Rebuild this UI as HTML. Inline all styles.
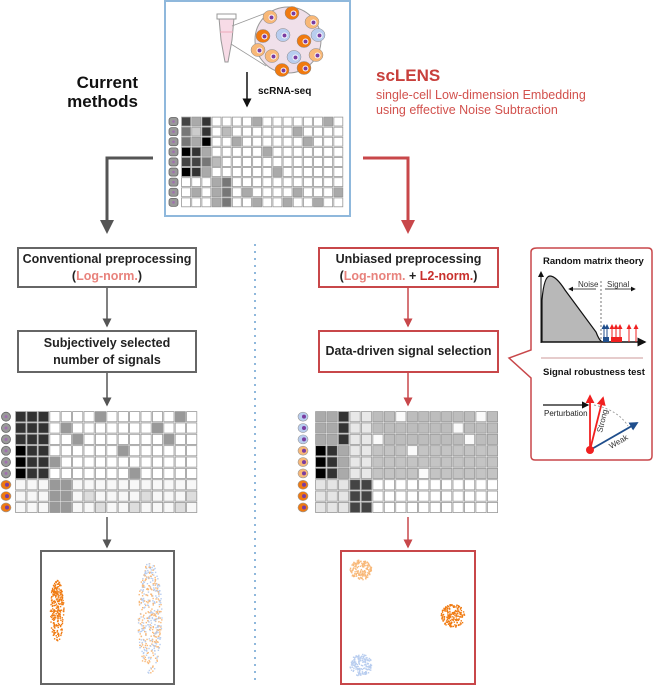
<!DOCTYPE html>
<html><head><meta charset="utf-8"><style>
html,body{margin:0;padding:0;background:#fff;}
body{width:654px;height:685px;position:relative;overflow:hidden;font-family:"Liberation Sans",Arial,sans-serif;}
.t{position:absolute;white-space:nowrap;}
.box{position:absolute;box-sizing:border-box;border:2px solid #666;display:flex;align-items:center;justify-content:center;text-align:center;font-weight:bold;font-size:12.5px;line-height:17px;color:#222;}
.red{border-color:#c8474a;}
.ln{color:#e8827c}
.rd{color:#c8302c}
</style></head><body>
<svg id="s" width="654" height="685" style="position:absolute;left:0;top:0">
<defs>
<marker id="ag" markerWidth="6" markerHeight="6" refX="5" refY="3" orient="auto"><path d="M0,0L6,3L0,6z" fill="#555"/></marker>
<marker id="ar" markerWidth="6" markerHeight="6" refX="5" refY="3" orient="auto"><path d="M0,0L6,3L0,6z" fill="#c8474a"/></marker>
<marker id="ak" markerWidth="6" markerHeight="6" refX="5" refY="3" orient="auto"><path d="M0,0L6,3L0,6z" fill="#111"/></marker>
<marker id="ars" markerWidth="5" markerHeight="5" refX="4" refY="2.5" orient="auto"><path d="M0,0L5,2.5L0,5z" fill="#f02020"/></marker>
<marker id="abs" markerWidth="5" markerHeight="5" refX="4" refY="2.5" orient="auto"><path d="M0,0L5,2.5L0,5z" fill="#1f4e8c"/></marker>
</defs>
<rect x="165" y="1" width="185" height="215" fill="#fff" stroke="#8fb8dc" stroke-width="2"/>
<path d="M219,18 L234,18 L232,40 L228,62 L225,62 L221,40 Z" fill="#f7dbe6" stroke="#999" stroke-width="1"/>
<path d="M220,32 L233,32" stroke="#eab" stroke-width="1"/>
<rect x="217" y="14" width="19" height="5" fill="#fff" stroke="#999"/>
<line x1="232" y1="26" x2="266" y2="13" stroke="#999" stroke-width="0.8"/>
<line x1="231" y1="44" x2="266" y2="66" stroke="#999" stroke-width="0.8"/>
<circle cx="288" cy="40" r="33" fill="#f0e0ea" stroke="#999"/>
<g id="cells"></g>
<line x1="247" y1="72" x2="247" y2="106" stroke="#111" stroke-width="1.5" marker-end="url(#ak)"/>
<g id="mats"></g>
<polyline points="153,158 107,158 107,222" fill="none" stroke="#555" stroke-width="3"/>
<path d="M100,220 L114,220 L107,234 Z" fill="#555"/>
<polyline points="363,158 408,158 408,222" fill="none" stroke="#c8474a" stroke-width="3"/>
<path d="M401,220 L415,220 L408,234 Z" fill="#c8474a"/>
<line x1="255" y1="244" x2="255" y2="685" stroke="#8fb8dc" stroke-width="2" stroke-dasharray="2,5"/>
<line x1="107" y1="288" x2="107" y2="326" stroke="#555" stroke-width="1.5" marker-end="url(#ag)"/>
<line x1="107" y1="373" x2="107" y2="405" stroke="#555" stroke-width="1.5" marker-end="url(#ag)"/>
<line x1="107" y1="517" x2="107" y2="547" stroke="#555" stroke-width="1.5" marker-end="url(#ag)"/>
<line x1="408" y1="288" x2="408" y2="326" stroke="#c8474a" stroke-width="1.5" marker-end="url(#ar)"/>
<line x1="408" y1="373" x2="408" y2="405" stroke="#c8474a" stroke-width="1.5" marker-end="url(#ar)"/>
<line x1="408" y1="517" x2="408" y2="547" stroke="#c8474a" stroke-width="1.5" marker-end="url(#ar)"/>
<rect x="41" y="551" width="133" height="133" fill="#fff" stroke="#666" stroke-width="2"/>
<rect x="341" y="551" width="134" height="133" fill="#fff" stroke="#c8474a" stroke-width="2"/>
<g id="pts"></g>
<path d="M537,248 L648,248 Q652,248 652,252 L652,456 Q652,460 648,460 L535,460 Q531,460 531,456 L531,378 L509,358 L531,350 L531,252 Q531,248 537,248 Z" fill="#fff" stroke="#c8474a" stroke-width="1.5"/>
<path d="M542,342 L542,300 Q544,276 550,276 Q556,276 565,290 L596,332 Q599,340 602,342 Z" fill="#b8b8b8"/>
<path d="M542,342 L542,300 Q544,276 550,276 Q556,276 565,290 L596,332 Q599,340 602,342" fill="none" stroke="#111" stroke-width="1.2"/>
<line x1="541" y1="343" x2="541" y2="272" stroke="#111" stroke-width="1" marker-end="url(#ak)"/>
<line x1="541" y1="342" x2="645" y2="342" stroke="#111" stroke-width="1.5" marker-end="url(#ak)"/>
<line x1="601" y1="281" x2="601" y2="342" stroke="#555" stroke-width="0.8" stroke-dasharray="2,2"/>
<line x1="596" y1="289" x2="569" y2="289" stroke="#111" stroke-width="0.8" marker-end="url(#ak)"/>
<line x1="605" y1="289" x2="635" y2="289" stroke="#111" stroke-width="0.8" marker-end="url(#ak)"/>
<g stroke-width="1">
<line x1="604" y1="342" x2="604" y2="325" stroke="#1f4e8c" marker-end="url(#abs)"/>
<line x1="607" y1="342" x2="607" y2="325" stroke="#1f4e8c" marker-end="url(#abs)"/>
<line x1="612" y1="342" x2="612" y2="325" stroke="#f02020" marker-end="url(#ars)"/>
<line x1="616" y1="342" x2="616" y2="325" stroke="#f02020" marker-end="url(#ars)"/>
<line x1="620" y1="342" x2="620" y2="325" stroke="#f02020" marker-end="url(#ars)"/>
<line x1="629" y1="342" x2="629" y2="325" stroke="#f02020" marker-end="url(#ars)"/>
<line x1="636" y1="342" x2="636" y2="325" stroke="#f02020" marker-end="url(#ars)"/>
</g>
<rect x="603" y="337" width="6" height="5" fill="#1f4e8c"/>
<rect x="611" y="337" width="11" height="5" fill="#f02020"/>
<line x1="541" y1="358" x2="643" y2="358" stroke="#c99" stroke-width="1"/>
<line x1="543" y1="405" x2="588" y2="405" stroke="#111" stroke-width="1.2" marker-end="url(#ak)"/>
<path d="M594,405 Q618,410 628,426" fill="none" stroke="#999" stroke-width="0.9" stroke-dasharray="2,2"/>
<line x1="590" y1="450" x2="590" y2="396" stroke="#f02020" stroke-width="1.8" marker-end="url(#ars)"/>
<line x1="590" y1="450" x2="603" y2="398" stroke="#f02020" stroke-width="1.8" marker-end="url(#ars)"/>
<line x1="590" y1="450" x2="637" y2="423" stroke="#1f4e8c" stroke-width="1.8" marker-end="url(#abs)"/>
<circle cx="590" cy="450" r="4" fill="#f02020"/>
<text x="0" y="0" font-size="8" fill="#333" font-family="Liberation Sans" transform="translate(602,433) rotate(-76)">Strong</text>
<text x="0" y="0" font-size="8" fill="#333" font-family="Liberation Sans" transform="translate(611,449) rotate(-30)">Weak</text>
<text x="544" y="416" font-size="8" fill="#222" font-family="Liberation Sans">Perturbation</text>
<text x="578" y="287" font-size="8" fill="#333" font-family="Liberation Sans">Noise</text>
<text x="607" y="287" font-size="8" fill="#333" font-family="Liberation Sans">Signal</text>
<text x="543" y="264" font-size="9.5" font-weight="bold" fill="#111" font-family="Liberation Sans">Random matrix theory</text>
<text x="543" y="375" font-size="9.5" font-weight="bold" fill="#111" font-family="Liberation Sans">Signal robustness test</text>
</svg>
<div class="t" style="left:60px;top:73px;width:78px;text-align:right;font-weight:bold;font-size:17px;line-height:19px;color:#111">Current<br>methods</div>
<div class="t" style="left:258px;top:86px;font-weight:bold;font-size:10px;color:#111">scRNA-seq</div>
<div class="t rd" style="left:376px;top:66px;font-weight:bold;font-size:17px;color:#c8403c">scLENS</div>
<div class="t" style="left:376px;top:88px;font-size:12.5px;line-height:15px;color:#d2514d">single-cell Low-dimension Embedding<br>using effective Noise Subtraction</div>
<div class="box" style="left:17px;top:247px;width:180px;height:41px"><span>Conventional preprocessing<br>(<span class="ln">Log-norm.</span>)</span></div>
<div class="box" style="left:17px;top:330px;width:180px;height:43px"><span>Subjectively selected<br>number of signals</span></div>
<div class="box red" style="left:318px;top:247px;width:181px;height:41px"><span>Unbiased preprocessing<br>(<span class="ln">Log-norm.</span> + <span class="rd">L2-norm.</span>)</span></div>
<div class="box red" style="left:318px;top:330px;width:181px;height:43px"><span>Data-driven signal selection</span></div>
<script>
var NS="http://www.w3.org/2000/svg";
function el(p,n,a){var e=document.createElementNS(NS,n);for(var k in a)e.setAttribute(k,a[k]);p.appendChild(e);return e;}
var mats=document.getElementById('mats');
function mat(x0,y0,cw,ch,f,lab,lx){
 for(var r=0;r<9;r++){for(var c=0;c<16;c++){el(mats,'rect',{x:x0+c*cw+0.6,y:y0+r*ch+0.6,width:cw-1.2,height:ch-1.2,fill:f(r,c),stroke:'#999','stroke-width':0.8});}
  var L=lab(r),cy=y0+r*ch+ch/2;
  if(L=='g'){el(mats,'rect',{x:lx-4,y:cy-4,width:9,height:8,rx:2.5,fill:'#999',stroke:'#666','stroke-width':0.8});el(mats,'circle',{cx:lx+0.5,cy:cy,r:1.3,fill:'#a070b0'});}
  else if(L=='gc'){el(mats,'circle',{cx:lx,cy:cy,r:4.5,fill:'#999',stroke:'#666','stroke-width':0.8});el(mats,'circle',{cx:lx,cy:cy,r:1.5,fill:'#a070b0'});}
  else{var col=L=='o'?'#f07a10':L=='lo'?'#f8b878':'#b8cdef';el(mats,'ellipse',{cx:lx,cy:cy,rx:5,ry:4.5,fill:col,stroke:'#999','stroke-width':0.6});el(mats,'circle',{cx:lx+1,cy:cy,r:2,fill:'#7a3ca0'});}
 }
}
var T=[['#444','#aaa','#333',0,0,0,0,'#aaa',0,0,0,0,0,0,'#aaa',0],
['#777','#ccc','#333',0,'#bbb',0,0,0,0,0,0,'#aaa',0,0,0,0],
['#777','#aaa','#000',0,0,'#aaa',0,0,0,0,0,0,'#aaa',0,0,0],
['#000','#333','#aaa',0,0,0,0,0,'#aaa',0,0,0,0,0,0,0],
['#444','#444','#777','#bbb',0,0,0,0,0,0,0,0,0,0,0,0],
['#000','#333','#aaa',0,0,0,0,0,0,'#aaa',0,0,0,0,0,0],
[0,0,0,'#aaa','#777',0,0,0,0,0,0,0,0,0,0,0],
[0,'#aaa',0,'#aaa','#777',0,'#aaa',0,0,0,0,'#aaa',0,0,0,'#aaa'],
[0,0,0,'#aaa','#777',0,0,'#aaa',0,0,'#aaa',0,0,'#aaa',0,0]];
mat(181,116.5,10.15,10.1,function(r,c){return T[r][c]||'#fff';},function(){return 'g';},173);
var Ls={0:[7,14],1:[4,12],2:[5,13],3:[9],4:[3],5:[10]};
mat(15,411,11.4,11.35,function(r,c){
 if(r<6){if(c<3)return (c==0&&r>=3)?'#000':'#333';return (Ls[r].indexOf(c)>=0)?'#999':'#fff';}
 if(c==3||c==4)return '#999';
 if((r==7&&(c==6||c==11||c==15))||(r==8&&(c==7||c==10||c==14)))return '#ddd';
 return '#f7f7f7';},function(r){return r<6?'gc':'o';},6);
var W={0:[7,14],1:[12],2:[5,13],3:[8],5:[9]};
mat(315,411,11.45,11.35,function(r,c){
 if(r<3){if(c<2)return '#aaa';if(c==2)return '#333';if(c<5)return '#e8e8e8';return (W[r]&&W[r].indexOf(c)>=0)?'#fafafa':'#bdbdbd';}
 if(r<6){if(c==0)return '#000';if(c==1)return '#333';if(c==2)return '#aaa';if(c<5)return '#e8e8e8';return (W[r]&&W[r].indexOf(c)>=0)?'#fafafa':'#c4c4c4';}
 if(c<3)return '#e5e5e5';if(c<5)return '#444';return '#fff';},function(r){return r<3?'b':r<6?'lo':'o';},303);
var cg=document.getElementById('cells');
var cs=[[270,17,'lo'],[292,13,'o'],[312,22,'lo'],[263,36,'o'],[283,35,'b'],[304,41,'o'],[272,56,'lo'],[294,57,'b'],[316,55,'lo'],[282,70,'o'],[304,68,'o'],[258,50,'lo'],[318,35,'b']];
cs.forEach(function(a){var col=a[2]=='o'?'#f07a10':a[2]=='lo'?'#f8b878':'#b8cdef';el(cg,'ellipse',{cx:a[0],cy:a[1],rx:7,ry:6.5,fill:col,stroke:'#888','stroke-width':0.5});el(cg,'circle',{cx:a[0]+1.5,cy:a[1]+0.5,r:3,fill:'#fff'});el(cg,'circle',{cx:a[0]+1.5,cy:a[1]+0.5,r:2,fill:'#7a3ca0'});});
var pg=document.getElementById('pts');var seed=7;function rnd(){seed=(seed*16807)%2147483647;return seed/2147483647;}
function cl(cx,cy,rx,ry,n,cols){for(var i=0;i<n;i++){var a=rnd()*6.283,d=Math.sqrt(rnd());el(pg,'rect',{x:cx+Math.cos(a)*d*rx-0.7,y:cy+Math.sin(a)*d*ry-0.7,width:1.4,height:1.4,fill:cols[i%cols.length]});}}
cl(57,611,7,31,260,['#f07a10']);
cl(150,618,12,56,450,['#f8b878','#b8cdef']);
cl(361,570,11,10,160,['#f8b878']);
cl(453,616,12,12,180,['#f07a10']);
cl(361,665,11,11,160,['#b8cdef']);
</script>
</body></html>
